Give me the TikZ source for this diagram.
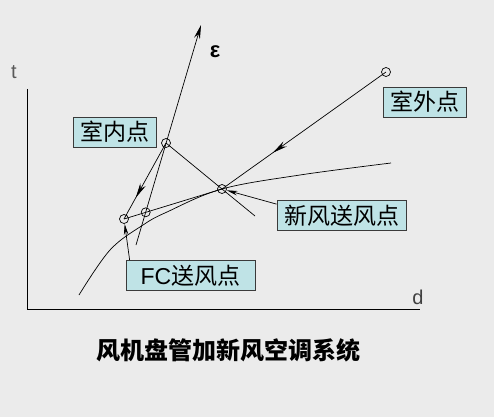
\documentclass[tikz,border=0pt]{standalone}
\usepackage{fontspec}
\setmainfont{Liberation Sans}
\newfontfamily\cjk{Noto Sans CJK SC}
\usetikzlibrary{arrows.meta,decorations.markings,calc}
\definecolor{bggray}{HTML}{EBEBEB}
\definecolor{lblblue}{HTML}{BFE3E6}
\definecolor{lbldraw}{HTML}{3A3A3A}
\tikzset{
  spt/.style={circle, draw, inner sep=0pt, minimum size=9pt},
  lbl/.style={draw=lbldraw, fill=lblblue, font=\cjk\fontsize{23}{23}\selectfont, inner xsep=7pt, inner ysep=0pt, minimum height=30pt},
  midarr/.style={postaction={decorate}, decoration={markings, mark=at position #1 with {\arrow{Stealth[length=15pt,width=6pt]}}}},
}
\begin{document}
\begin{tikzpicture}[x=1pt, y=-1pt, line width=0.7pt]
\fill[bggray] (0,0) rectangle (494,417);
% axes
\draw[line width=1pt] (27,89) -- (27,309) -- (420,309);
\node[font=\fontsize{20}{20}\selectfont, text=black!65] (tax) at (14,72){t};
\node[font=\fontsize{20}{20}\selectfont, text=black!75] (dax) at (418,297){d};
% saturation curve
\draw plot[smooth, tension=0.6] coordinates {(79,295) (110,250) (143,225) (167,212) (222,189) (300,175) (391,163)};
% epsilon line
\coordinate (e0) at (136,245);
\coordinate (e1) at (201,25);
\draw[-{Stealth[length=14pt,width=6pt]}] (e0) -- (e1);
\node[font=\bfseries\fontsize{22}{22}\selectfont] (eps) at (215,52){ε};
% state points
\node[spt] (rn) at (166,143){};
\node[spt] (sw) at (386,72){};
\node[spt] (xf) at (222,189){};
\node[spt] (hh) at (145.7,212.3){};
\node[spt] (fc) at (124,219){};
\coordinate (rnend) at (255,216);
\draw (rn.center) -- (xf.center) -- (rnend);
\draw[midarr=0.69] (sw.center) -- (xf.center);
\draw[midarr=0.72] (rn.center) -- (fc.center);
\draw (fc.center) -- (xf.center);
% labels
\node[lbl] (rnl) at (115,132){室内点};
\node[lbl] (swl) at (425,102){室外点};
\node[lbl] (xfl) at (341.5,215.5){新风送风点};
\node[lbl, minimum width=129pt] (fcl) at (190.5,275.5){{\rmfamily FC}送风点};
\draw[-{Stealth[length=11pt,width=4.5pt]}] ($(xfl.north west)+(0,4)$) -- (xf);
\draw[-{Stealth[length=11pt,width=4.5pt]}] ($(fcl.north west)+(4,0)$) -- (fc);
% title
\node[font=\cjk\bfseries\fontsize{24}{24}\selectfont] (title) at (228.5,350){风机盘管加新风空调系统};
\end{tikzpicture}
\end{document}
